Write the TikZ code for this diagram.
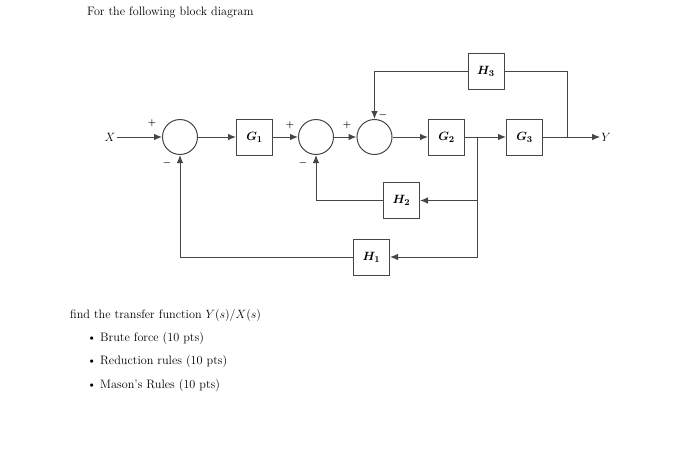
\documentclass[tikz,border=0pt]{standalone}
\usepackage{amsmath,amssymb}
\usepackage{tikz}
\usetikzlibrary{arrows.meta, positioning}
\definecolor{linegray}{RGB}{70,70,70}

\begin{document}
\begin{tikzpicture}[x=1pt, y=-1pt, >={Latex[length=8pt,width=6.5pt]},
    block/.style={rectangle, draw=linegray, line width=1pt, fill=white, minimum width=36pt, minimum height=36pt, inner sep=0pt, font=\fontsize{13}{15}\selectfont},
    sumnode/.style={circle, draw=linegray, line width=1pt, fill=white, minimum size=35pt, inner sep=0pt},
    line/.style={draw=linegray, line width=1pt},
    sign/.style={font=\fontsize{9}{10}\selectfont, inner sep=0pt},
    txt/.style={anchor=west, inner sep=0pt, font=\fontsize{12.2}{14}\selectfont}]
    \useasboundingbox (0,0) rectangle (700,448);

    % Question
    \node[txt] (title) at (87,12) {For the following block diagram};

    % Forward path
    \node[inner sep=1pt, font=\fontsize{13}{15}\selectfont] (x) at (110,137) {$X$};
    \node[sumnode] (sum1) at (180,137) {};
    \node[block, right=38pt of sum1] (g1) {$\boldsymbol{G_1}$};
    \node[sumnode, right=25pt of g1] (sum2) {};
    \node[sumnode, right=22.5pt of sum2] (sum3) {};
    \node[block, right=35.5pt of sum3] (g2) {$\boldsymbol{G_2}$};
    \node[block, right=41pt of g2] (g3) {$\boldsymbol{G_3}$};
    \node[inner sep=1pt, font=\fontsize{13}{15}\selectfont] (y) at (606,137) {$Y$};

    % Feedback blocks
    \node[block] (h3) at (486,71) {$\boldsymbol{H_3}$};
    \node[block] (h2) at (401.5,200.5) {$\boldsymbol{H_2}$};
    \node[block] (h1) at (371.5,257) {$\boldsymbol{H_1}$};

    % Branch points
    \coordinate (b1) at (477,137);
    \coordinate (b2) at (567,137);

    % Arrows
    \draw[line, ->] (x) -- (sum1);
    \draw[line, ->] (sum1) -- (g1);
    \draw[line, ->] (g1) -- (sum2);
    \draw[line, ->] (sum2) -- (sum3);
    \draw[line, ->] (sum3) -- (g2);
    \draw[line, ->] (g2) -- (g3);
    \draw[line, ->] (g3) -- (y);

    \draw[line] (b2) |- (h3);
    \draw[line, ->] (h3) -| (sum3);
    \draw[line, ->] (b1) |- (h2);
    \draw[line, ->] (b1) |- (h1);
    \draw[line, ->] (h2) -| (sum2);
    \draw[line, ->] (h1) -| (sum1);

    % Signs
    \node[sign] at (152,123) {$\boldsymbol{+}$};
    \node[sign] at (167,163) {$\boldsymbol{-}$};
    \node[sign] at (290,125) {$\boldsymbol{+}$};
    \node[sign] at (303,163) {$\boldsymbol{-}$};
    \node[sign] at (347,125) {$\boldsymbol{+}$};
    \node[sign] at (383,115) {$\boldsymbol{-}$};

    % Tasks
    \node[txt] (task) at (70,315) {find the transfer function $Y(s)/X(s)$};
    \node[txt] (brute) at (87,338.5) {\makebox[13pt][l]{\textbullet}Brute force (10 pts)};
    \node[txt] (reduce) at (87,361.5) {\makebox[13pt][l]{\textbullet}Reduction rules (10 pts)};
    \node[txt] (mason) at (87,385) {\makebox[13pt][l]{\textbullet}Mason's Rules (10 pts)};
\end{tikzpicture}
\end{document}
